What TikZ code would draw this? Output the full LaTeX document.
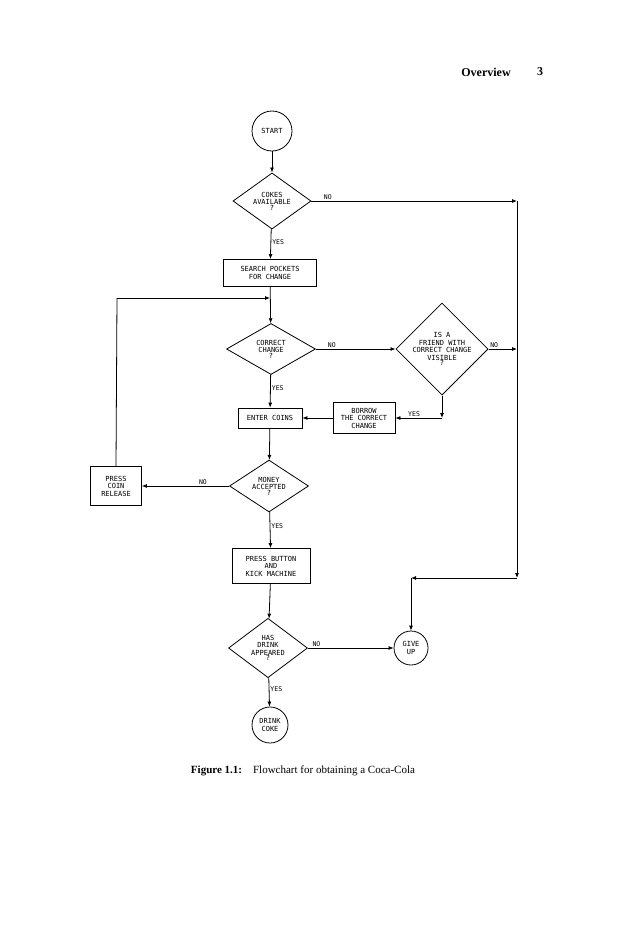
\documentclass[tikz,border=0pt]{standalone}
\usepackage{fontspec}
\setmainfont{Liberation Serif}
\newfontfamily\chartfont{DejaVu Sans Mono}
\usetikzlibrary{shapes.geometric,arrows.meta}
\begin{document}
\begin{tikzpicture}[x=1pt,y=-1pt,
  every node/.style={font=\chartfont\fontsize{7}{7.5}\selectfont,align=center,inner sep=1pt},
  box/.style={draw,thick,rectangle,minimum height=#1},
  circ/.style={draw,thick,circle,minimum size=#1},
  lab/.style={font=\chartfont\fontsize{6.5}{6.5}\selectfont},
  line/.style={thick},
  arr/.style={thick,-{Latex[length=5pt,width=4pt]}}]
\useasboundingbox (0,0) rectangle (638,940);
\node[font=\bfseries\fontsize{12}{13}\selectfont] (hd) at (486,72) {Overview};
\node[font=\bfseries\fontsize{12}{13}\selectfont] (pg) at (540,72) {3};
\node[circ=40pt] (start) at (272,131) {START};
\node[draw,thick,diamond,minimum width=78pt,minimum height=44pt,inner sep=0pt] (cokes) at (272,201) {COKES\\AVAILABLE\\[-2pt]?};
\node[box=27pt,minimum width=93pt] (search) at (270,273) {SEARCH POCKETS\\FOR CHANGE};
\node[draw,thick,diamond,minimum width=89pt,minimum height=51pt,inner sep=0pt] (corr) at (271,349) {CORRECT\\CHANGE\\[-2pt]?};
\node[draw,thick,diamond,minimum width=92pt,minimum height=91pt,inner sep=0pt] (friend) at (442,349) {IS A\\FRIEND WITH\\CORRECT CHANGE\\VISIBLE\\[-2pt]?};
\node[box=20pt,minimum width=64pt] (enter) at (270,418) {ENTER COINS};
\node[box=31pt,minimum width=62pt] (borrow) at (364,418) {BORROW\\THE CORRECT\\CHANGE};
\node[draw,thick,diamond,minimum width=79pt,minimum height=44pt,inner sep=0pt] (money) at (269,486) {MONEY\\ACCEPTED\\[-2pt]?};
\node[box=39pt,minimum width=51pt] (release) at (116,486) {PRESS\\COIN\\RELEASE};
\node[box=35pt,minimum width=78pt] (button) at (271,566) {PRESS BUTTON\\AND\\KICK MACHINE};
\node[draw,thick,diamond,minimum width=79pt,minimum height=44pt,inner sep=0pt] (drink) at (268,648) {HAS\\DRINK\\APPEARED\\[-2pt]?};
\node[circ=34pt] (giveup) at (411,648) {GIVE\\UP};
\node[circ=36pt] (coke) at (270,725) {DRINK\\COKE};
\coordinate (r1) at (517,201);
\coordinate (r2) at (517,349);
\coordinate (r3) at (517,578);
\coordinate (g1) at (411,578);
\coordinate (loopL) at (117,298);
\coordinate (loopR) at (270,298);
\coordinate (fy) at (442,418);
\draw[arr] (start) -- (cokes);
\draw[arr] (cokes) -- node[lab,right,pos=0.45]{YES} (search);
\draw[arr] (cokes.east) -- node[lab,above,pos=0.08]{NO} (r1);
\draw[line] (r1) -- (r2);
\draw[arr] (r2) -- (r3);
\draw[arr] (r3) -- (g1);
\draw[arr] (g1) -- (giveup);
\draw[arr] (search) -- (corr);
\draw[arr] (corr.east) -- node[lab,above,pos=0.2]{NO} (friend.west);
\draw[arr] (friend.east) -- node[lab,above,pos=0.2]{NO} (r2);
\draw[arr] (corr) -- node[lab,right,pos=0.4]{YES} (enter);
\draw[arr] (friend.south) -- (fy);
\draw[arr] (fy) -- node[lab,above,pos=0.6]{YES} (borrow.east);
\draw[arr] (borrow) -- (enter);
\draw[arr] (enter) -- (money);
\draw[arr] (money.west) -- node[lab,above,pos=0.3]{NO} (release.east);
\draw[line] (release.north) -- (loopL);
\draw[arr] (loopL) -- (loopR);
\draw[arr] (money) -- node[lab,right,pos=0.4]{YES} (button);
\draw[arr] (button) -- (drink);
\draw[arr] (drink.east) -- node[lab,above,pos=0.1]{NO} (giveup);
\draw[arr] (drink) -- node[lab,right,pos=0.4]{YES} (coke);
\node[font=\fontsize{11}{12}\selectfont] (cap) at (303,771) {\textbf{Figure 1.1:}\quad Flowchart for obtaining a Coca-Cola};
\end{tikzpicture}
\end{document}
